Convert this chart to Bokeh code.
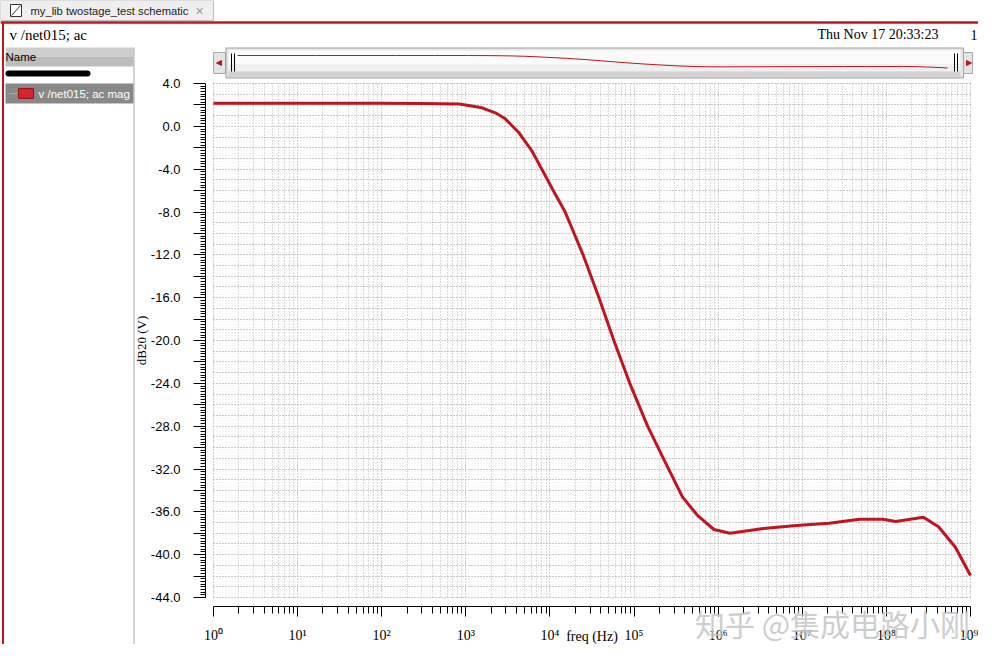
from bokeh.plotting import figure
from bokeh.models import Range1d, LogScale, LinearScale, FixedTicker
from bokeh.embed import file_html
from bokeh.resources import INLINE
from bokeh.core.properties import value

# ---------------- data ----------------
freq_hz = [1, 10, 100, 316, 480, 826, 1084, 1560, 2244, 2944,
           4227, 6067, 7962, 10940, 15170, 24770, 38280, 57540, 88920, 144900,
           229000, 375800, 562300, 891300, 1380000, 3467000, 8511000, 20890000, 47860000, 91200000,
           128800000, 275400000, 416900000, 660700000, 1000000000]
mag_db = [2.15, 2.15, 2.15, 2.14, 2.12, 2.08, 1.95, 1.73, 1.26, 0.70,
          -0.55, -2.26, -3.97, -5.99, -8.0, -12.0, -16.0, -20.0, -24.0, -28.0,
          -31.2, -34.6, -36.3, -37.65, -38.0, -37.56, -37.28, -37.06, -36.7, -36.7,
          -36.9, -36.5, -37.4, -39.3, -41.95]

x_major = [1.0, 1e1, 1e2, 1e3, 1e4, 1e5, 1e6, 1e7, 1e8, 1e9]
x_tick_labels = ["10\u2070", "10\u00b9", "10\u00b2", "10\u00b3", "10\u2074",
                 "10\u2075", "10\u2076", "10\u2077", "10\u2078", "10\u2079"]
y_major = [float(v) for v in range(-44, 5, 2)]
y_tick_labels = ["%.1f" % v if int(v) % 4 == 0 else "" for v in y_major]

trace_name = "v /net015; ac mag"
title_text = "v /net015; ac"
date_text = "Thu Nov 17 20:33:23"
tab_text = "my_lib twostage_test schematic"
x_title = "freq (Hz)"
y_title = "dB20 (V)"
watermark = "知乎 @集成电路小刚"

RED = "#c0141e"
SERIF = "Liberation Serif"
SANS = "Liberation Sans"

x_minor = [m * 10 ** k for k in range(9) for m in range(2, 10)]
y_minor = [-44 + 0.25 * i for i in range(193)]
y_grid_major = [float(v) for v in range(-44, 5)]

# ---------------- geometry (canvas pixels) ----------------
W, H = 978, 644
X_1, X_E9 = 213, 970          # pixel of 10^0 and 10^9
Y_4, Y_M44 = 83, 597          # pixel of +4 dB and -44 dB
AX_GAP = 8                    # axes sit 8 px outside the plotting area
PX_DEC = (X_E9 - X_1) / 9.0
PX_DB = (Y_M44 - Y_4) / 48.0

x_start = 10 ** (-X_1 / PX_DEC)
x_end = 10 ** (9 + (W - X_E9) / PX_DEC)
y_end = 4 + Y_4 / PX_DB
y_start = -44 - (H - Y_M44) / PX_DB

p = figure(width=W, height=H, x_axis_type="log",
           x_range=Range1d(x_start, x_end), y_range=Range1d(y_start, y_end),
           min_border=0, toolbar_location=None, output_backend="svg",
           background_fill_color="white", border_fill_color="white",
           outline_line_color=None)

# pixel space for the window chrome
p.extra_x_ranges = {"px": Range1d(0, W)}
p.extra_x_scales = {"px": LinearScale()}
p.extra_y_ranges = {"px": Range1d(H, 0)}
p.extra_y_scales = {"px": LinearScale()}

# overview (scroll bar) space
MINI_X1, MINI_X9 = 237, 947
MINI_Y_TOP_DB, MINI_Y_BOT_DB = 55, 67.5
MINI_DEC = (MINI_X9 - MINI_X1) / 9.0
MINI_DB = (MINI_Y_BOT_DB - MINI_Y_TOP_DB) / (2.15 + 42.0)
p.extra_x_ranges["mini"] = Range1d(10 ** (-MINI_X1 / MINI_DEC), 10 ** (9 + (W - MINI_X9) / MINI_DEC))
p.extra_x_scales["mini"] = LogScale()
p.extra_y_ranges["mini"] = Range1d(2.15 - (H - MINI_Y_TOP_DB) / MINI_DB, 2.15 + MINI_Y_TOP_DB / MINI_DB)
p.extra_y_scales["mini"] = LinearScale()

PX = dict(x_range_name="px", y_range_name="px")


def txt(x, y, s, font, size, color="black", align="left", **kw):
    p.text(x=[x], y=[y], text=[s], text_font=value(font), text_font_size=size,
           text_color=color, text_align=align, text_baseline="middle", **kw, **PX)


# ---------------- tab bar, title, date ----------------
p.quad(left=0, right=213, top=0, bottom=20, fill_color="#efefef", line_color="#bdbdbd", **PX)
p.quad(left=10, right=21, top=4, bottom=16, fill_color="white", line_color="#333333", **PX)
p.segment(x0=11, y0=15, x1=20, y1=5, line_color="#333333", line_width=1, **PX)
txt(30, 10.5, tab_text, SANS, "11.2px", "#222222")
txt(195, 10.5, "\u00d7", SANS, "14px", "#9a9a9a")
p.segment(x0=0, y0=22, x1=W, y1=22, line_color=RED, line_width=2.5, **PX)
p.segment(x0=2.5, y0=22, x1=2.5, y1=H, line_color=RED, line_width=2, **PX)
txt(9, 34, title_text, SERIF, "15px")
txt(817, 34, date_text, SERIF, "14px")
txt(977, 34, "1", SERIF, "14px", align="right")

# ---------------- left panel ----------------
p.quad(left=5, right=133, top=47, bottom=56, fill_color="#cdcdcd", line_color=None, **PX)
p.quad(left=5, right=133, top=56, bottom=66, fill_color="#bcbcbc", line_color=None, **PX)
txt(5, 56.5, "Name", SANS, "11.5px")
p.segment(x0=8, y0=73, x1=87, y1=73, line_color="black", line_width=6, line_cap="round", **PX)
p.quad(left=5, right=133, top=83, bottom=103, fill_color="#888888", line_color=None, **PX)
p.segment(x0=9, y0=93, x1=16, y1=93, line_color="#c8c8c8", line_width=1, line_dash="1 1", **PX)
p.quad(left=18, right=33, top=88, bottom=98, fill_color="#d0262c", line_color="#a01018", **PX)
txt(38, 93, trace_name, SANS, "11.5px", "white")
p.segment(x0=133.5, y0=47, x1=133.5, y1=H, line_color="#a8a8a8", line_width=1, **PX)

# ---------------- scroll bar with overview ----------------
p.quad(left=213, right=225, top=52, bottom=73, fill_color="#e4e4e4", line_color="#a8a8a8", **PX)
p.patch(x=[216, 221, 221], y=[62.5, 60, 65], fill_color=RED, line_color=RED, **PX)
p.quad(left=225.5, right=963, top=47.5, bottom=77.5, fill_color="#e6e6e6", line_color="#a0a0a0", **PX)
p.quad(left=228, right=960, top=50, bottom=64, fill_color="#fbfbfb", line_color=None, **PX)
p.quad(left=228, right=960, top=64, bottom=71, fill_color="#f0f0f0", line_color=None, **PX)
p.quad(left=228, right=960, top=71, bottom=76.5, fill_color="#d2d2d2", line_color=None, **PX)
p.segment(x0=[231, 234, 954, 957], y0=[53] * 4, x1=[231, 234, 954, 957], y1=[71] * 4,
          line_color="black", line_width=1, **PX)
p.quad(left=963, right=972, top=52, bottom=73, fill_color="#e4e4e4", line_color="#a8a8a8", **PX)
p.patch(x=[966, 971, 966], y=[60, 62.5, 65], fill_color=RED, line_color=RED, **PX)
p.line(freq_hz, mag_db, x_range_name="mini", y_range_name="mini", line_color=RED, line_width=1)

# ---------------- main chart ----------------
xa = p.xaxis[0]
xa.fixed_location = -44 - AX_GAP / PX_DB - 1 / PX_DB
xa.ticker = FixedTicker(ticks=x_major, minor_ticks=x_minor)
xa.bounds = (1, 1e9)
xa.major_label_overrides = dict(zip(x_major, x_tick_labels))
xa.major_tick_out = 10
xa.major_tick_in = 0
xa.minor_tick_out = 7
xa.minor_tick_in = 0
xa.major_label_standoff = 11
xa.major_label_text_font = SERIF
xa.major_label_text_font_size = "14px"
xa.major_label_text_color = "black"
xa.axis_line_color = "black"
xa.major_tick_line_color = "black"
xa.minor_tick_line_color = "black"
xa.axis_label = x_title
xa.axis_label_text_font = SERIF
xa.axis_label_text_font_size = "14px"
xa.axis_label_text_font_style = "normal"
xa.axis_label_text_color = "black"
xa.axis_label_standoff = -17

ya = p.yaxis[0]
ya.fixed_location = 10 ** (-AX_GAP / PX_DEC)
ya.ticker = FixedTicker(ticks=y_major, minor_ticks=y_minor)
ya.bounds = (-44, 4)
ya.major_label_overrides = dict(zip(y_major, y_tick_labels))
ya.major_tick_out = 12
ya.major_tick_in = 0
ya.minor_tick_out = 5
ya.minor_tick_in = 0
ya.major_label_standoff = 13
ya.major_label_text_font = SANS
ya.major_label_text_font_size = "13px"
ya.major_label_text_color = "black"
ya.axis_line_color = "black"
ya.major_tick_line_color = "black"
ya.minor_tick_line_color = "black"
ya.axis_label = y_title
ya.axis_label_text_font = SERIF
ya.axis_label_text_font_size = "13px"
ya.axis_label_text_font_style = "normal"
ya.axis_label_text_color = "black"
ya.axis_label_standoff = -1

xg = p.xgrid[0]
xg.ticker = FixedTicker(ticks=x_major, minor_ticks=x_minor)
xg.bounds = (1, 1e9)
xg.cross_bounds = (-44, 4)
xg.grid_line_color = "#9a9a9a"
xg.grid_line_dash = "1 2"
xg.minor_grid_line_color = "#b4b4b4"
xg.minor_grid_line_dash = "1 2"

yg = p.ygrid[0]
yg.ticker = FixedTicker(ticks=y_grid_major, minor_ticks=y_minor)
yg.bounds = (-44, 4)
yg.cross_bounds = (1, 1e9)
yg.grid_line_color = "#9a9a9a"
yg.grid_line_dash = "1 2"
yg.minor_grid_line_color = "#ececec"
yg.minor_grid_line_dash = "1 2"

p.line(freq_hz, mag_db, line_color=RED, line_width=3)

# watermark over the axis labels
p.text(x=[832], y=[622], text=[watermark], text_font=value("Noto Sans CJK SC"),
       text_font_size="30px", text_color="#c4c4c4", text_alpha=0.85,
       text_align="center", text_baseline="middle", level="overlay", **PX)

open("out.html", "w").write(file_html(p, INLINE))
